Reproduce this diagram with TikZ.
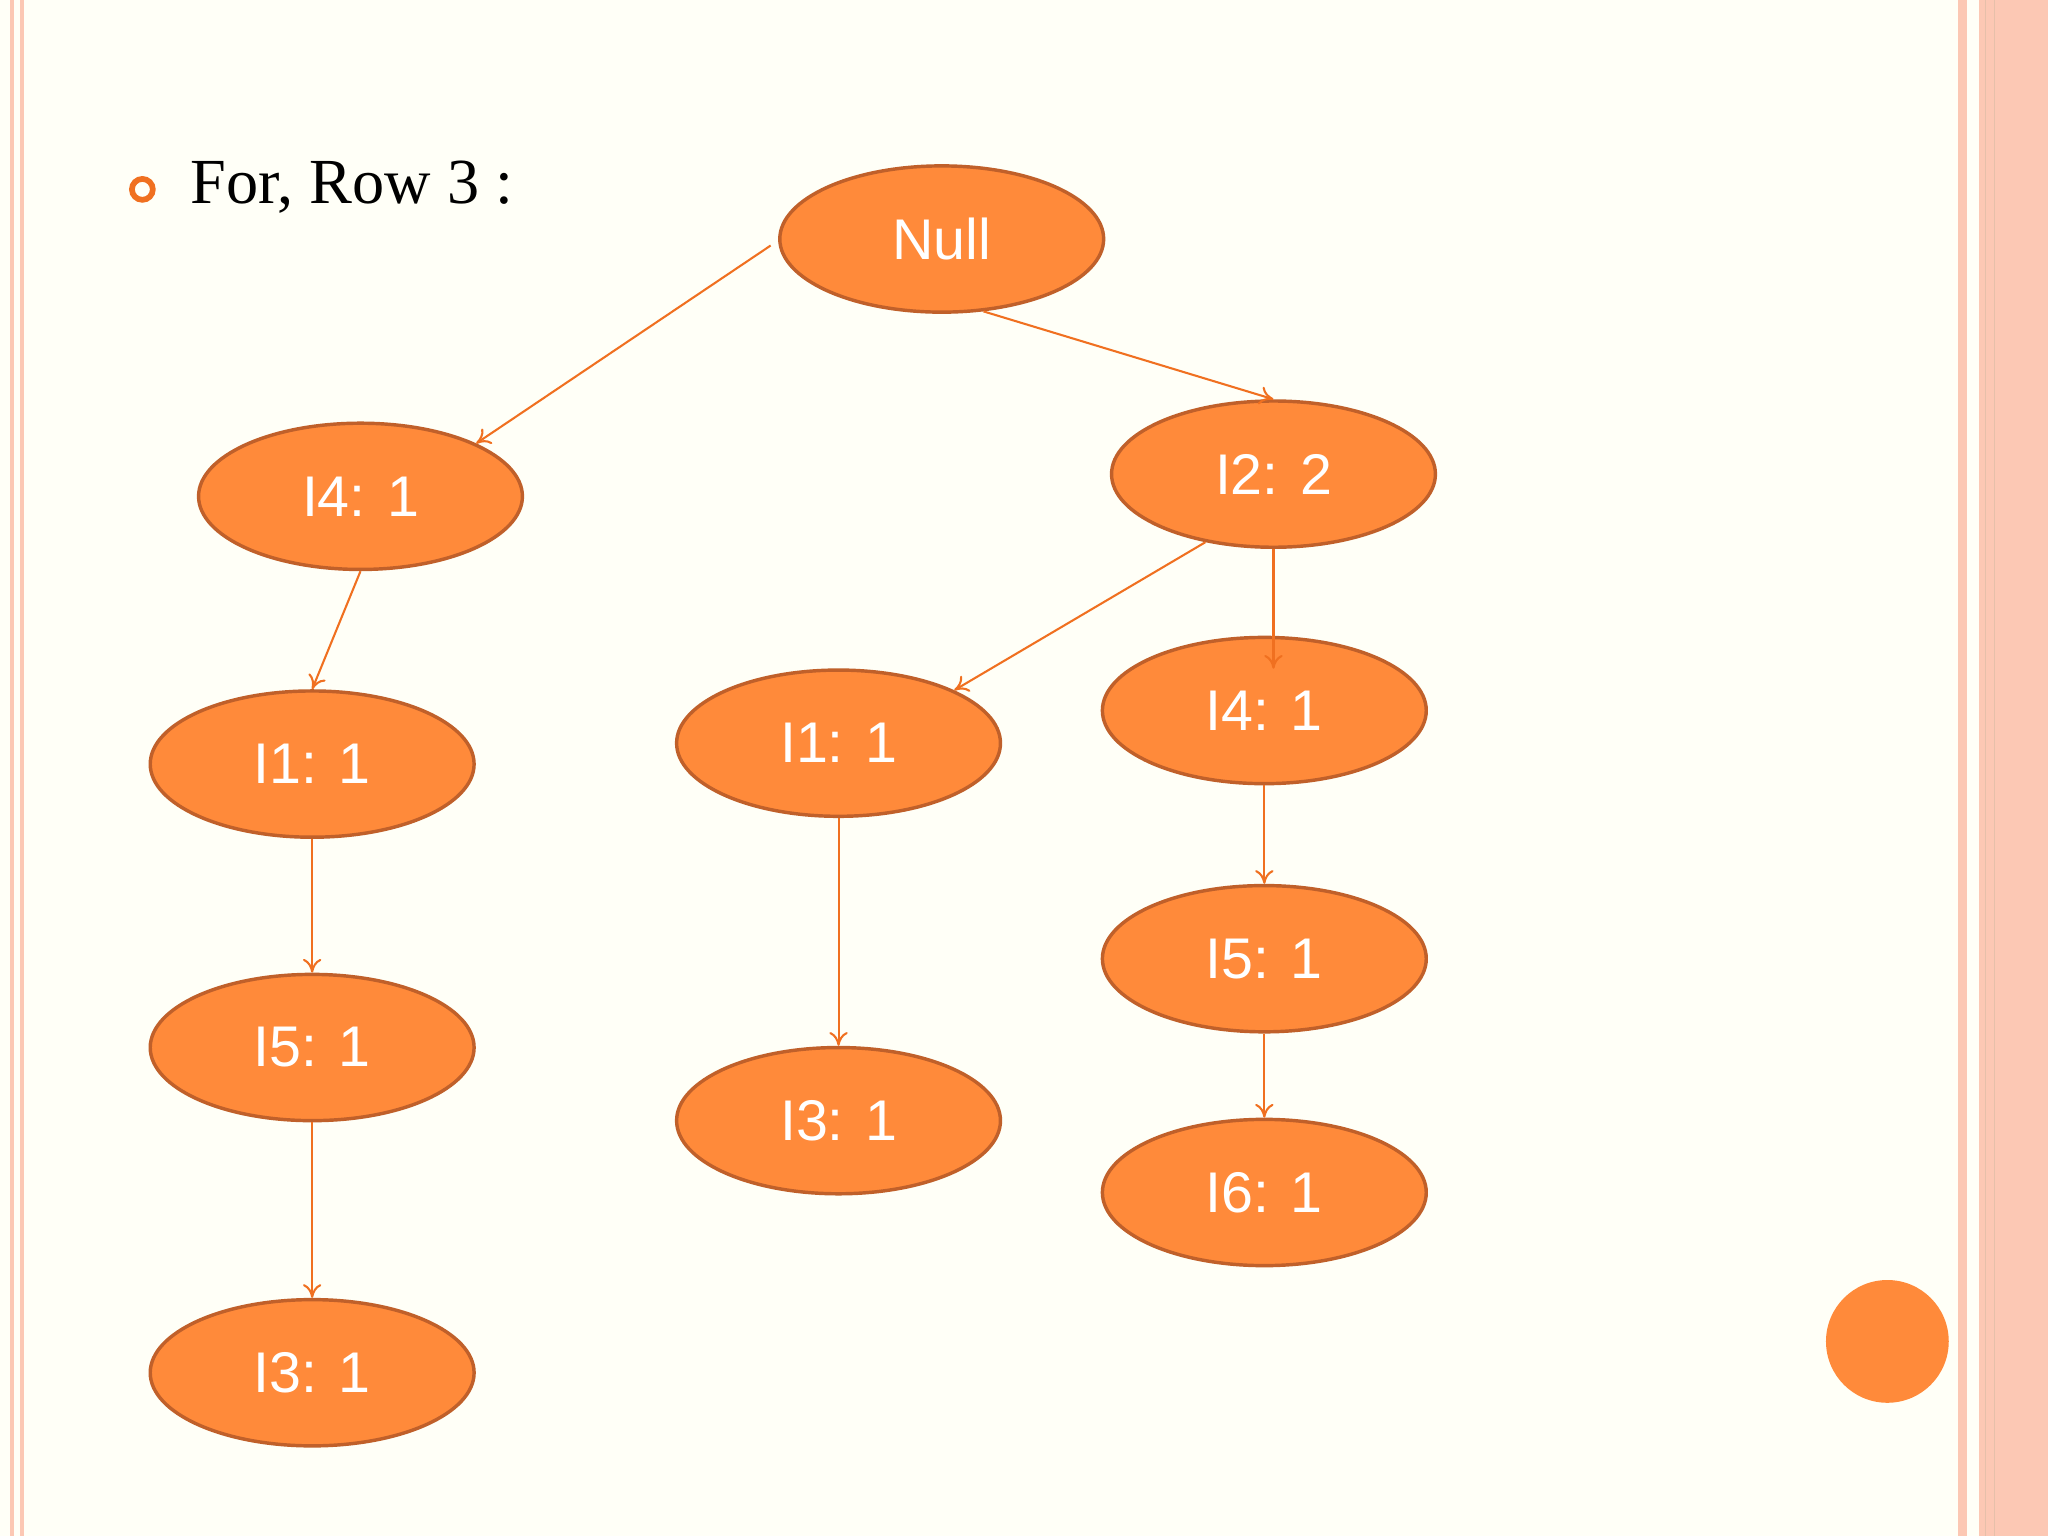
\documentclass[tikz,border=0pt]{standalone}
\usepackage{fontspec}
\setmainfont{Liberation Serif}
\newfontfamily\sansf{Liberation Sans}
\usetikzlibrary{shapes.geometric,arrows.meta}
\definecolor{fillO}{HTML}{FF8A3A}
\definecolor{edgeO}{HTML}{C0602A}
\definecolor{lineO}{HTML}{F07020}
\definecolor{pinkS}{HTML}{FCC8B4}
\begin{document}
\begin{tikzpicture}[x=0.02cm,y=-0.02cm,
  nd/.style={ellipse,draw=edgeO,line width=1.5pt,fill=fillO,minimum width=4.96cm,minimum height=2.24cm,inner sep=0pt,text=white,font=\sansf\fontsize{25}{30}\selectfont},
  ar/.style={draw=lineO,line width=0.9pt,-{To[open,length=6pt,width=8pt]}}]
\useasboundingbox (0,0) rectangle (1568,1176);
\fill[white!97!yellow] (0,0) rectangle (1568,1176);
% stripes
\fill[pinkS] (8,0) rectangle (11,1176);
\fill[pinkS] (15,0) rectangle (18,1176);
\fill[pinkS] (1499,0) rectangle (1506,1176);
\fill[pinkS] (1515,0) rectangle (1568,1176);
\draw[edgeO!40,line width=0.6pt] (1520,0) -- (1520,1176) (1527,0) -- (1527,1176);
% bullet
\draw[lineO,line width=2.5pt] (109,145) circle (8);
\node[anchor=west,font=\fontsize{28}{34}\selectfont] (title) at (140,143) {For, Row 3 :};
\fill[fillO] (1445,1027) circle (47);
% nodes
\node[nd] (null) at (721,183) {Null};
\node[nd] (a4) at (276,380) {I4: 1};
\node[nd] (b2) at (975,363) {I2: 2};
\node[nd] (a1) at (239,585) {I1: 1};
\node[nd] (m1) at (642,569) {I1: 1};
\node[nd] (b4) at (968,544) {I4: 1};
\node[nd] (a5) at (239,802) {I5: 1};
\node[nd] (b5) at (968,734) {I5: 1};
\node[nd] (m3) at (642,858) {I3: 1};
\node[nd] (b6) at (968,913) {I6: 1};
\node[nd] (a3) at (239,1051) {I3: 1};
\coordinate (s0) at (590,188);
\coordinate (e2) at (975,512);
% edges
\draw[ar] (s0) -- (a4.north east);
\draw[ar] (null.-60) -- (b2.north);
\draw[ar] (a4.south) -- (a1.north);
\draw[ar] (a1.south) -- (a5.north);
\draw[ar] (a5.south) -- (a3.north);
\draw[ar] (b2.-135) -- (m1.north east);
\draw[ar] (b2.south) -- (e2);
\draw[ar] (m1.south) -- (m3.north);
\draw[ar] (b4.south) -- (b5.north);
\draw[ar] (b5.south) -- (b6.north);
\end{tikzpicture}
\end{document}
